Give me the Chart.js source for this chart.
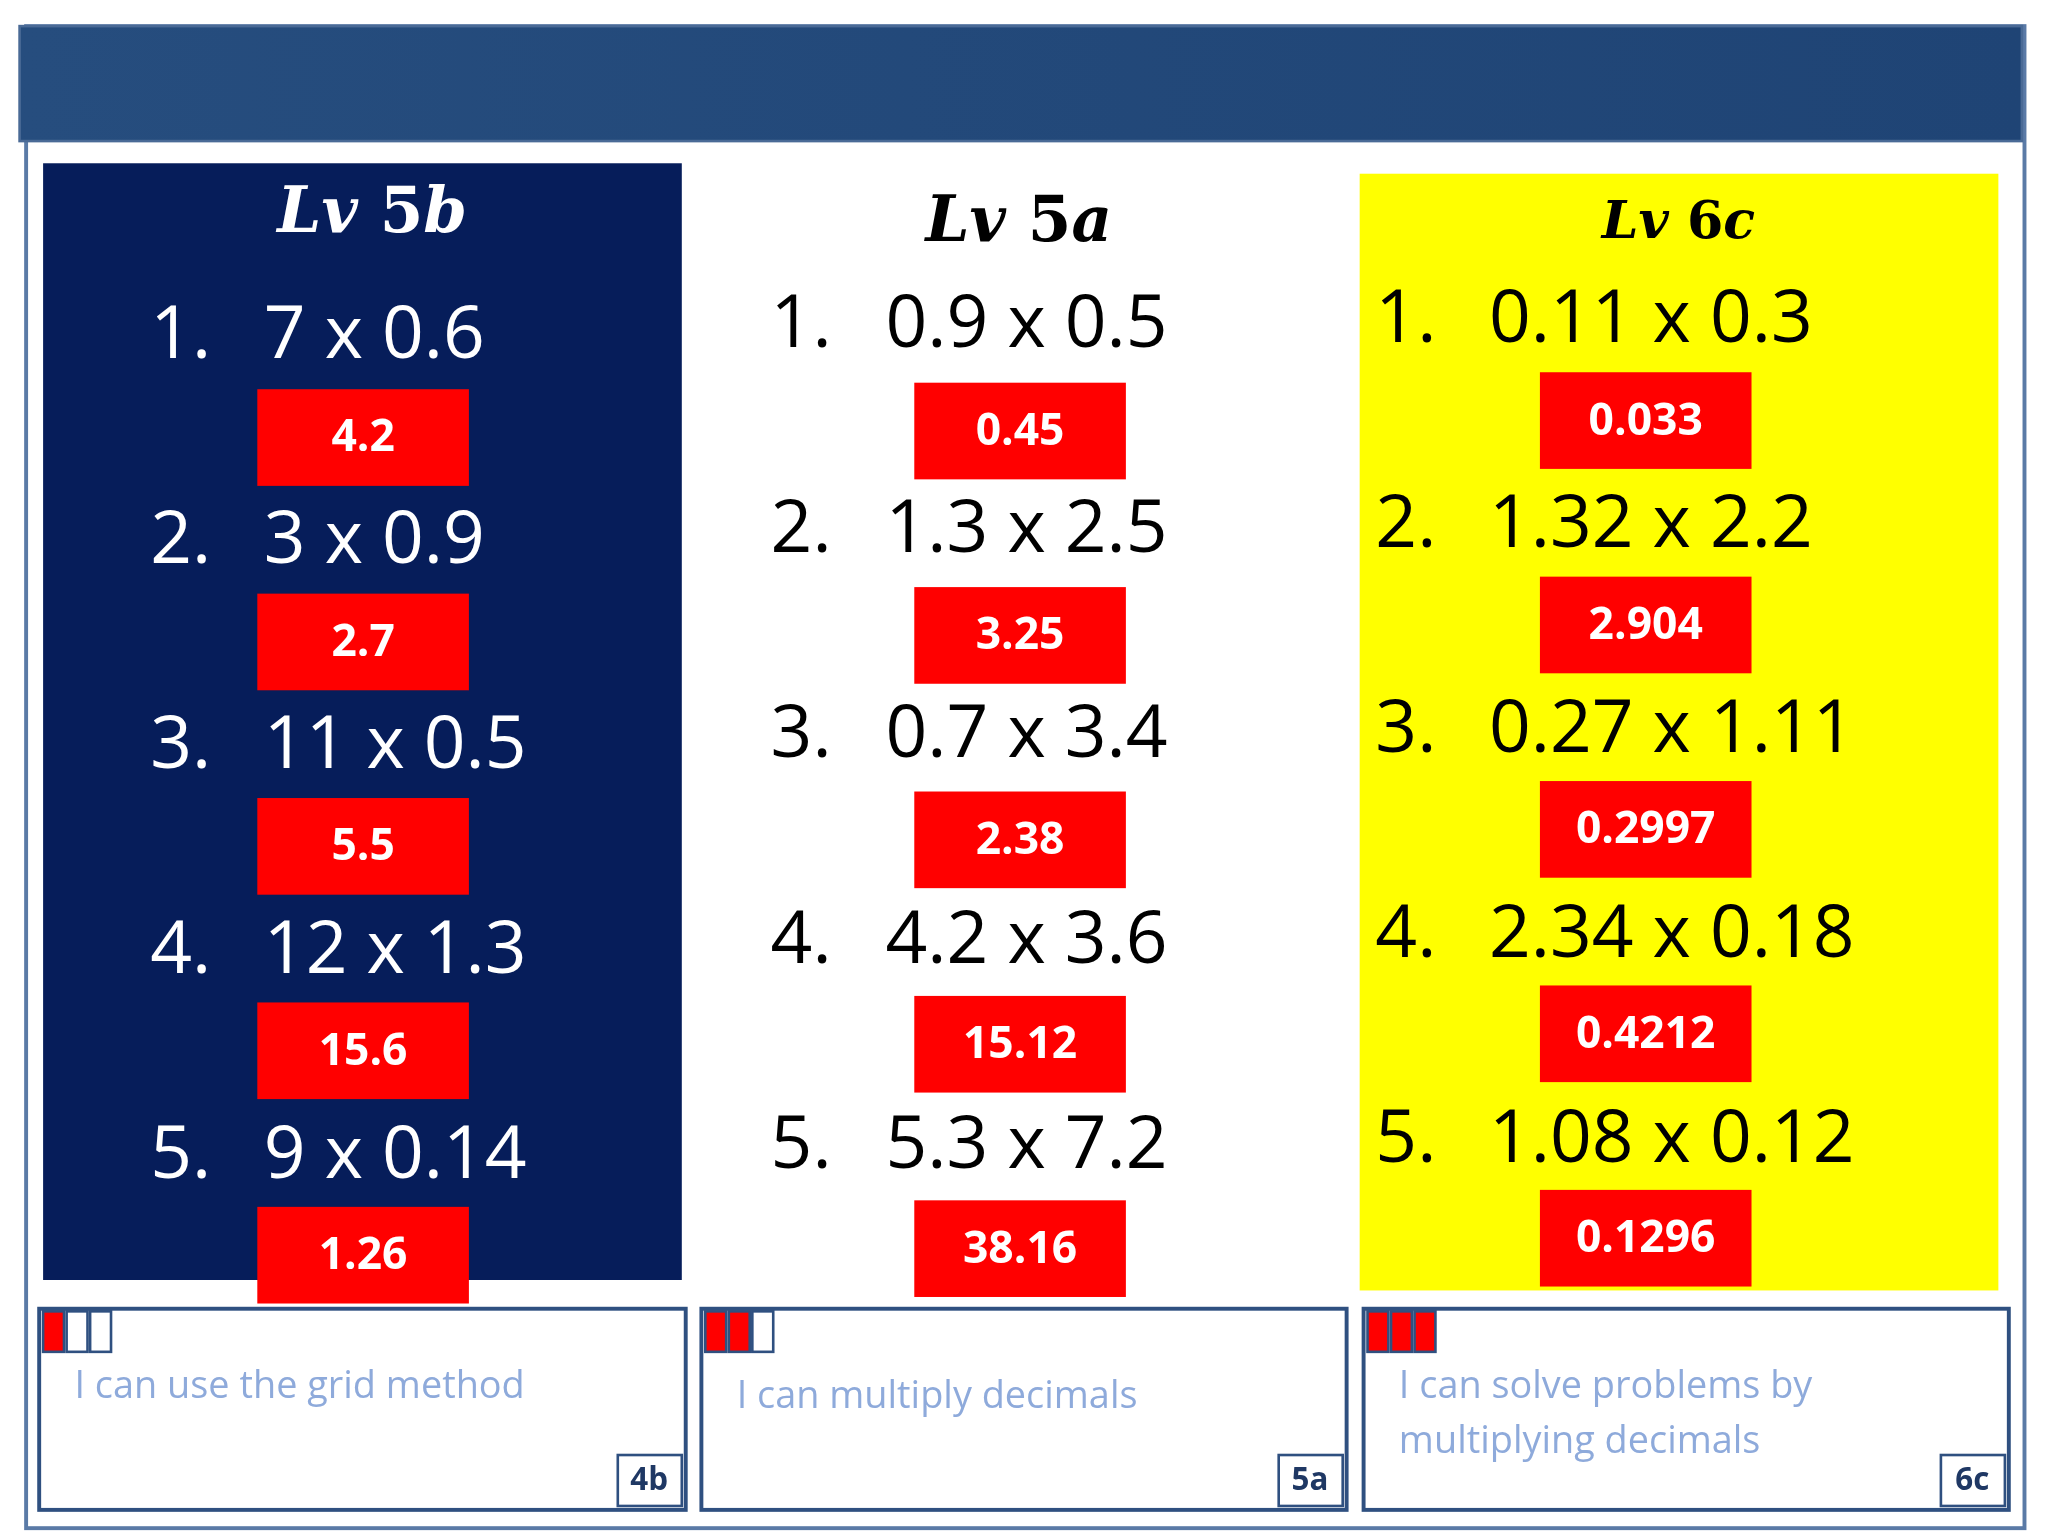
<!DOCTYPE html>
<html><head><meta charset="utf-8">
<script src="https://cdn.jsdelivr.net/npm/chart.js@4"></script>
<style>html,body{margin:0;padding:0;background:#fff}#wrap{width:2048px;height:1536px}</style>
</head><body><div id="wrap"><canvas id="c"></canvas></div>
<script>
const levels = ['Lv 5b', 'Lv 5a', 'Lv 6c'];
const questions5b = ['7 x 0.6', '3 x 0.9', '11 x 0.5', '12 x 1.3', '9 x 0.14'];
const questions5a = ['0.9 x 0.5', '1.3 x 2.5', '0.7 x 3.4', '4.2 x 3.6', '5.3 x 7.2'];
const questions6c = ['0.11 x 0.3', '1.32 x 2.2', '0.27 x 1.11', '2.34 x 0.18', '1.08 x 0.12'];
const answers5b = ['4.2', '2.7', '5.5', '15.6', '1.26'];
const answers5a = ['0.45', '3.25', '2.38', '15.12', '38.16'];
const answers6c = ['0.033', '2.904', '0.2997', '0.4212', '0.1296'];
const statements = [['I can use the grid method'], ['I can multiply decimals'], ['I can solve problems by', 'multiplying decimals']];
const badges = ['4b', '5a', '6c'];
const filled = [1, 2, 3];

const questions = [questions5b, questions5a, questions6c];
const answers = [answers5b, answers5a, answers6c];
const S = 2048 / 1568;

const slide = {
  id: 'slide',
  afterDraw(chart) {
    const ctx = chart.ctx, X = v => chart.scales.x.getPixelForValue(v), Y = v => chart.scales.y.getPixelForValue(v);
    const rect = (x1, y1, x2, y2, fill, stroke, lw) => {
      const a = X(x1), b = Y(y1), w = X(x2) - a, h = Y(y2) - b;
      if (fill) { ctx.fillStyle = fill; ctx.fillRect(a, b, w, h); }
      if (stroke) { ctx.strokeStyle = stroke; ctx.lineWidth = lw * S; ctx.strokeRect(a, b, w, h); }
    };
    const text = (t, x, y, font, color, align) => {
      ctx.font = font; ctx.fillStyle = color; ctx.textAlign = align || 'left'; ctx.textBaseline = 'middle';
      ctx.fillText(t, X(x), Y(y));
    };
    ctx.save();
    rect(20, 20, 1550, 1170, '#ffffff', '#5a7aa6', 3);
    const g = ctx.createLinearGradient(X(15), 0, X(1548), 0);
    g.addColorStop(0, '#264d7e'); g.addColorStop(1, '#1f4475');
    rect(15, 20, 1548, 108, g, '#4a6a96', 2);
    rect(33, 125, 522, 980, '#061d5a');
    rect(1041, 133, 1530, 988, '#ffff00');
    const cfg = [
      {tx: 285, ty: 165, tf: 48, nx: 115, ex: 202, y0: 258, col: '#ffffff', bx: 197, by0: 298},
      {tx: 780, ty: 172, tf: 48, nx: 590, ex: 678, y0: 250, col: '#000000', bx: 700, by0: 293},
      {tx: 1285, ty: 172, tf: 40, nx: 1053, ex: 1140, y0: 246, col: '#000000', bx: 1179, by0: 285}
    ];
    cfg.forEach((c, i) => {
      const [lv, num] = levels[i].split(' ');
      ctx.font = `italic bold ${c.tf * S}px "DejaVu Serif"`;
      const w1 = ctx.measureText(lv + ' ').width;
      ctx.font = `bold ${c.tf * S}px "DejaVu Serif"`;
      const w2 = ctx.measureText(num.slice(0, 1)).width;
      ctx.font = `italic bold ${c.tf * S}px "DejaVu Serif"`;
      const w3 = ctx.measureText(num.slice(1)).width;
      let sx = X(c.tx) - (w1 + w2 + w3) / 2;
      ctx.fillStyle = i === 0 ? '#ffffff' : '#000000'; ctx.textAlign = 'left'; ctx.textBaseline = 'middle';
      ctx.fillText(lv + ' ', sx, Y(c.ty));
      ctx.font = `bold ${c.tf * S}px "DejaVu Serif"`; ctx.fillText(num.slice(0, 1), sx + w1, Y(c.ty));
      ctx.font = `italic bold ${c.tf * S}px "DejaVu Serif"`; ctx.fillText(num.slice(1), sx + w1 + w2, Y(c.ty));
      questions[i].forEach((q, k) => {
        const y = c.y0 + k * 157;
        text((k + 1) + '.', c.nx, y, `${56 * S}px "Open Sans"`, c.col);
        text(q, c.ex, y, `${56 * S}px "Open Sans"`, c.col);
        const by = c.by0 + k * 156.5;
        rect(c.bx, by, c.bx + 162, by + 74, '#ff0000');
        text(answers[i][k], c.bx + 81, by + 38, `bold ${34 * S}px "Open Sans"`, '#ffffff', 'center');
      });
    });
    [[30, 525], [537, 1031], [1044, 1538]].forEach(([a, b], i) => {
      rect(a, 1002, b, 1156, '#ffffff', '#2f5080', 3);
      for (let k = 0; k < 3; k++) rect(a + 3 + k * 18, 1004, a + 19 + k * 18, 1035, k < filled[i] ? '#ff0000' : '#ffffff', '#2f5080', 2);
      statements[i].forEach((s, k) => text(s, a + 27, 1062 + (i === 1 ? 8 : 0) + k * 42, `${29 * S}px "Open Sans"`, '#8eaadb'));
      rect(b - 52, 1114, b - 3, 1153, '#ffffff', '#2f5080', 2);
      text(badges[i], b - 28, 1134, `bold ${24 * S}px "Open Sans"`, '#1f3864', 'center');
    });
    ctx.restore();
  }
};

new Chart(document.getElementById('c'), {
  type: 'scatter',
  data: { datasets: [{ data: [], pointRadius: 0 }] },
  options: {
    responsive: true, maintainAspectRatio: false, animation: false,
    layout: { padding: 0 },
    plugins: { legend: { display: false }, tooltip: { enabled: false } },
    scales: {
      x: { type: 'linear', min: 0, max: 1568, display: false },
      y: { type: 'linear', min: 0, max: 1176, reverse: true, display: false }
    }
  },
  plugins: [slide]
});
</script></body></html>
